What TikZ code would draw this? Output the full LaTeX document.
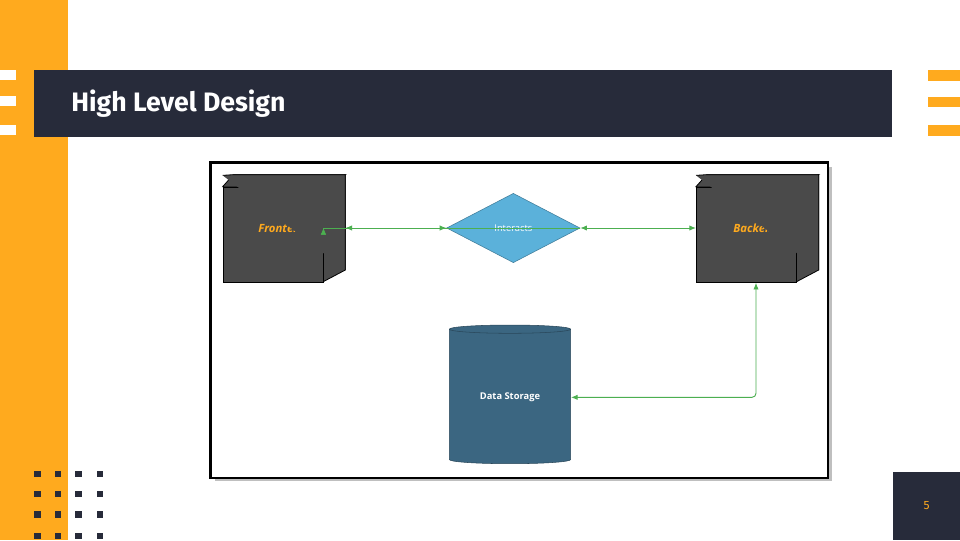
\documentclass[tikz,border=0pt]{standalone}
\usepackage{fontspec}
\setmainfont{Open Sans}
\newfontfamily\titlefont{Fira Sans}
\usetikzlibrary{shapes.geometric,arrows.meta,positioning}
\definecolor{accent}{HTML}{FFAA1E}
\definecolor{navy}{HTML}{272B3A}
\definecolor{boxgray}{HTML}{4A4A4A}
\definecolor{link}{HTML}{4CAF50}
\definecolor{sky}{HTML}{5BB1DA}
\definecolor{store}{HTML}{3B6681}
\tikzset{
  cubeface/.style={fill=boxgray, draw=black, line width=0.6pt},
  conn/.style={draw=link, line width=0.7pt, {Latex[length=5pt,width=4pt]}-{Latex[length=5pt,width=4pt]}},
  dot/.style={fill=navy, minimum size=5pt, inner sep=0pt},
}
\begin{document}
\begin{tikzpicture}[x=1pt,y=-1pt]
\useasboundingbox (0,0) rectangle (720,405);
\fill[white] (0,0) rectangle (720,405);
% side strip and bars
\fill[accent] (0,0) rectangle (51,405);
\foreach \y in {52.5,72,94} \fill[white] (0,\y) rectangle (12,\y+7.5);
\foreach \y in {52.5,72.5,94} \fill[accent] (696,\y) rectangle (720,\y+8);
% title
\fill[navy] (25.5,52.5) rectangle (669,103);
\node (title)[anchor=west, text=white, font=\titlefont\bfseries\fontsize{20}{24}\selectfont] at (50,78) {High Level Design};
% page number
\fill[navy] (670,354) rectangle (720,405);
\node (page)[text=accent, font=\titlefont\fontsize{9}{10}\selectfont] at (695,379.5) {5};
% dots
\foreach \x in {28,43.5,59,75} \foreach \y in {355.5,370.5,386,402} \node[dot] at (\x,\y) {};
% frame
\fill[black!25] (161,125) rectangle (624,361);
\draw[white, fill=white] (158,122) rectangle (621,358.5);
\draw[black, line width=2.2pt] (158,122) rectangle (621,358.5);
% cubes
\foreach \n/\x/\t in {front/167/Frontend, back/522/Backend}{
  \fill[cubeface] (\x,140) -- (\x+8,131) -- (\x+92,131) -- (\x+75,140) -- cycle;
  \fill[cubeface] (\x+75,140) -- (\x+92,131) -- (\x+92,202.5) -- (\x+75,211.5) -- cycle;
  \node (\n)[cubeface, rectangle, minimum width=75pt, minimum height=71.5pt, anchor=north west,
    text=accent, font=\itshape\bfseries\fontsize{8.5}{10}\selectfont, inner sep=0pt] at (\x,140) {};
  \node (\n t)[text=accent, font=\itshape\bfseries\fontsize{8.5}{10}\selectfont] at (\x+45,171) {\t};
}
\draw[cubeface] (167,131.5) -- (175,131) -- (259,131) -- (259,202.5);
\draw[cubeface] (522,131.5) -- (530,131) -- (614,131) -- (614,202.5);
% interacts
\node (inter)[diamond, aspect=1.9, fill=sky, draw=sky!70!black, minimum width=100pt, minimum height=52pt,
  inner sep=0pt, text=white, font=\fontsize{7}{8}\selectfont] at (385,171) {Interacts};
% storage
\node (store)[cylinder, shape border rotate=90, aspect=0.12, fill=store, draw=store!70!black,
  minimum width=91pt, minimum height=104pt, text=white, font=\bfseries\fontsize{7}{8}\selectfont] at (382.5,298) {Data Storage};
\coordinate (bend) at (567,298);
% links
\draw[conn] (259,171) -- (inter.west);
\draw[conn] (inter.east) -- (front.east |- inter.east) ++(0,0);
\draw[conn] (inter.east) -- (back.west |- inter.east);
\draw[conn, rounded corners=3pt] (store.east |- bend) -- (bend) -- (back.south -| bend);
\end{tikzpicture}
\end{document}
